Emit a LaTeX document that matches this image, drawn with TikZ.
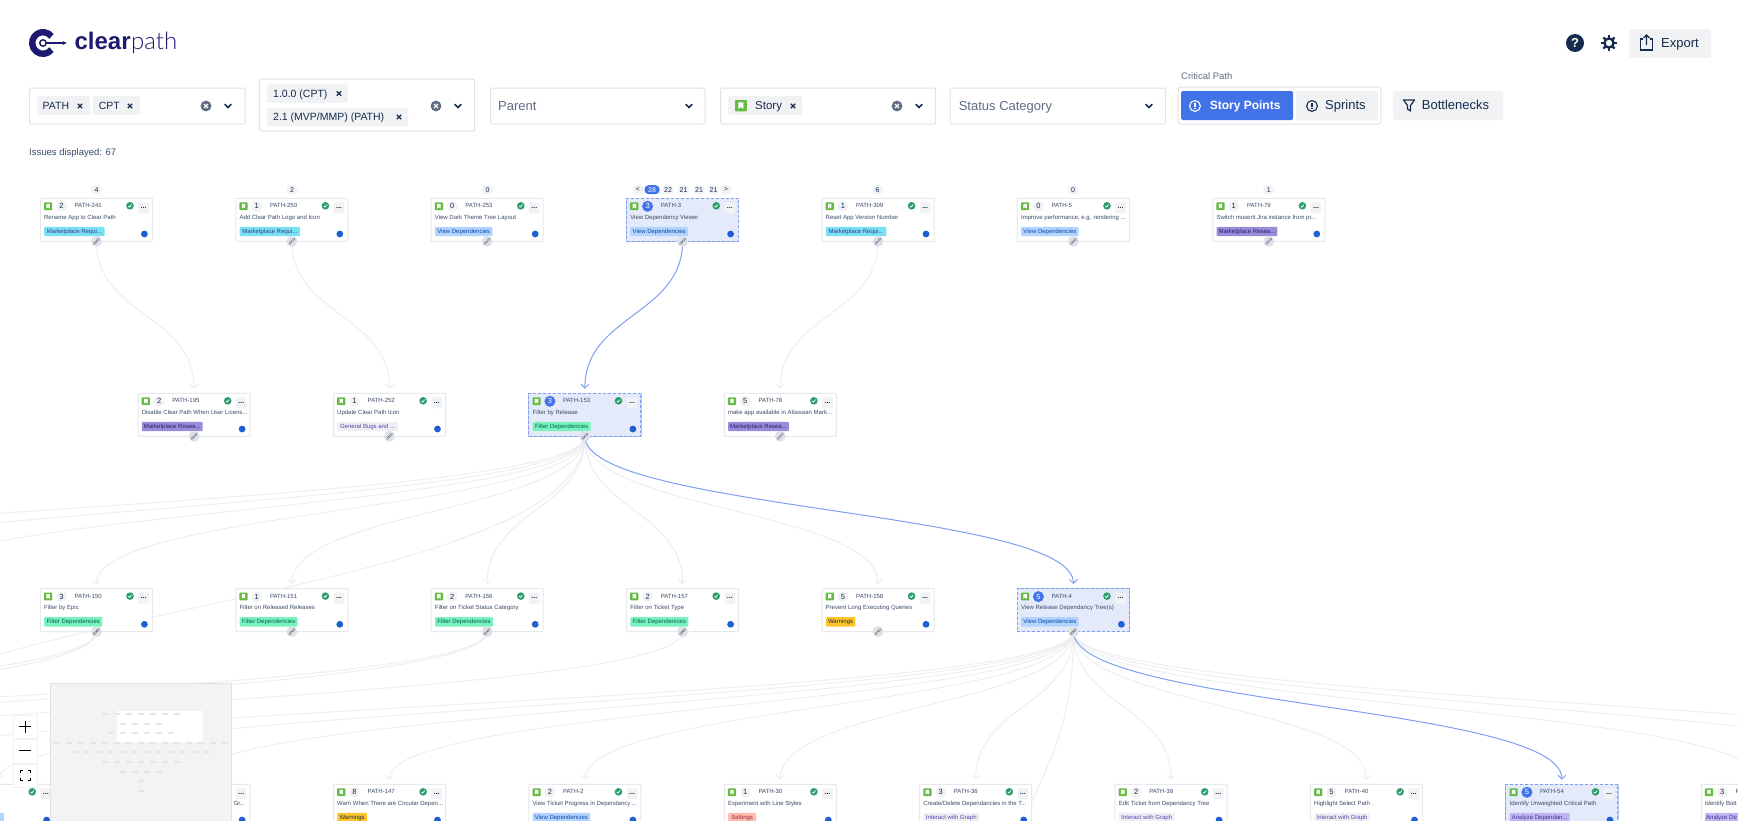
\documentclass[tikz,border=0pt]{standalone}
\usepackage{fontspec}
\setmainfont{Liberation Sans}
\newfontfamily\logothin{Lato Light}
\usetikzlibrary{calc,backgrounds,arrows.meta}
\definecolor{navy}{HTML}{172B4D}
\definecolor{slate}{HTML}{5E6C84}
\definecolor{chipgrey}{HTML}{F1F2F4}
\definecolor{rulegrey}{HTML}{DFE1E6}
\definecolor{cardline}{HTML}{E7E8EC}
\definecolor{edgegrey}{HTML}{ECEDEF}
\definecolor{edgeblue}{HTML}{7F9FF2}
\definecolor{activeblue}{HTML}{4272E8}
\definecolor{selfill}{HTML}{E4EAFA}
\definecolor{storygreen}{HTML}{65BA43}
\definecolor{okgreen}{HTML}{2B9E6B}
\definecolor{dotblue}{HTML}{1F5FD1}
\definecolor{logoink}{HTML}{1E1A70}
\definecolor{mapgrey}{HTML}{F3F3F3}
\definecolor{mapdash}{HTML}{E6E6E6}
\tikzset{
  boxfield/.style={draw=rulegrey,line width=1,rounded corners=1.5,fill=white},
  chip/.style={fill=chipgrey,rounded corners=1.5,inner sep=0,anchor=west},
  chiptext/.style={inner sep=0,anchor=west,text=navy,font=\fontsize{10.5}{12}\selectfont},
  fieldtext/.style={inner sep=0,anchor=west,text=slate,font=\fontsize{13}{15}\selectfont,text height=11,text depth=2.2},
  btntext/.style={inner sep=0,anchor=west,text=navy,font=\fontsize{13}{15}\selectfont,text height=11,text depth=2.2},
  greybtn/.style={fill=chipgrey,rounded corners=1.5},
  cardbox/.style={draw=cardline,line width=1,fill=white,rounded corners=.8,anchor=north west,minimum width=112,minimum height=43,inner sep=0,outer sep=0},
  ptspill/.style={circle,fill=chipgrey,minimum size=11,inner sep=0,text=navy,font=\fontsize{7.5}{8}\selectfont},
  selected/.style={
    cardbox/.style={draw=edgeblue,line width=1.1,densely dashed,fill=selfill,anchor=north west,minimum width=112,minimum height=43,inner sep=0,outer sep=0,
      preaction={draw=edgeblue!60,line width=1.6,solid}},
    ptspill/.style={circle,fill=activeblue,minimum size=11,inner sep=0,text=white,font=\fontsize{7.5}{8}\selectfont}},
  keytext/.style={inner sep=0,anchor=west,text=navy!85,font=\fontsize{6}{7}\selectfont,text height=4.5,text depth=1.3},
  sumtext/.style={inner sep=0,anchor=west,text=navy!85,font=\fontsize{6}{7}\selectfont,text height=4.5,text depth=1.3},
  okdot/.style={circle,fill=okgreen,minimum size=7.6,inner sep=0},
  morebtn/.style={fill=chipgrey,rounded corners=.8,minimum width=10.6,minimum height=11,inner sep=0,text=navy,font=\fontsize{7}{8}\selectfont},
  tagbox/.style={rounded corners=1,minimum height=9.4,inner sep=0,anchor=west,font=\fontsize{6}{7}\selectfont,text height=4.5,text depth=1.3},
  linkdot/.style={circle,fill=rulegrey,minimum size=11,inner sep=0},
  countpill/.style={fill=chipgrey,rounded corners=4,minimum height=9,minimum width=11,inner sep=0,text=navy,font=\fontsize{7}{8}\selectfont},
  tagcyan/.style={fill={rgb,255:red,121;green,226;blue,242},text={rgb,255:red,64;green,50;blue,148}},
  tagblue/.style={fill={rgb,255:red,179;green,212;blue,255},text={rgb,255:red,7;green,71;blue,166}},
  tagviolet/.style={fill={rgb,255:red,153;green,141;blue,217},text={rgb,255:red,40;green,30;blue,110}},
  tagplain/.style={fill={rgb,255:red,238;green,239;blue,243},text={rgb,255:red,82;green,67;blue,170}},
  taggreen/.style={fill={rgb,255:red,121;green,242;blue,192},text={rgb,255:red,0;green,102;blue,68}},
  tagamber/.style={fill={rgb,255:red,255;green,196;blue,41},text=navy},
  tagrose/.style={fill={rgb,255:red,255;green,189;blue,173},text={rgb,255:red,150;green,40;blue,60}},
  taglilac/.style={fill={rgb,255:red,192;green,182;blue,242},text={rgb,255:red,64;green,50;blue,148}},
  greyedge/.style={draw=edgegrey,line width=.9,-{Straight Barb[length=4pt,width=8pt]}},
  blueedge/.style={draw=edgeblue,line width=1,-{Straight Barb[length=4pt,width=8pt]}},
  storyicon/.pic={
    \fill[storygreen,rounded corners=.8] (0,0) rectangle (8.2,7.8);
    \fill[white] (2.4,1.6) -- (5.8,1.6) -- (5.8,6.2) -- (4.1,4.9) -- (2.4,6.2) -- cycle;},
  chevronmark/.pic={\draw[navy,line width=1.5,line cap=round] (-3,-1.5) -- (0,1.5) -- (3,-1.5);},
  clearmark/.pic={\fill[slate] (0,0) circle (5.4);
    \draw[white,line width=1.2] (-2,-2) -- (2,2) (-2,2) -- (2,-2);},
  crossmark/.pic={\draw[navy,line width=1.3] (-2.2,-2.2) -- (2.2,2.2) (-2.2,2.2) -- (2.2,-2.2);},
  alertmark/.pic={\draw[line width=1.1] (0,0) circle (5.4);
    \draw[line width=1.3] (0,-3) -- (0,.8) (0,2) -- (0,3.1);},
}
% one issue card
\newcommand{\card}[9]{%
  \begin{scope}[shift={(#2,#3)}]
    \node[cardbox] (#1) at (0,0) {};
    \pic at (3.6,4) {storyicon};
    \node[ptspill] (#1pts) at (21,8) {#4};
    \node[keytext] (#1key) at (34,8) {#5};
    \node[okdot] (#1ok) at (89.6,7.5) {};
    \draw[white,line width=.7] (87.9,7.6) -- (89.2,8.8) -- (91.2,6.3);
    \node[morebtn] (#1more) at (103.2,9.5) {\textbf{...}};
    \node[sumtext] (#1sum) at (3.5,19.4) {#6};
    \node[tagbox,#7,minimum width=#9] (#1tag) at (3.6,33.2) {#8};
    \node[linkdot] (#1link) at (56,43) {};
    \draw[draw=slate,double=rulegrey,line width=.6,double distance=.7,line cap=round]
      (53.7,45.3) -- (55.5,43.5) (56.5,42.5) -- (58.3,40.7);
    \coordinate (#1in) at (56,-4.5);
  \end{scope}}
\newcommand{\edgeto}[3][greyedge]{%
  \coordinate (edgemid) at ($(#2.south)!0.5!(#3in)$);
  \draw[#1] (#2.south) .. controls (#2.south |- edgemid) and (#3in |- edgemid) .. (#3in);}
\begin{document}
\begin{tikzpicture}[x=1pt,y=-1pt]
\useasboundingbox (0,0) rectangle (1738,820);
\begin{scope}[on background layer]
  \fill[white] (0,0) rectangle (1738,820);
\end{scope}

% header
\draw[logoink,line width=6.4] (43,43) ++(38:10.8) arc[start angle=38,end angle=322,radius=10.8];
\draw[logoink,line width=1.5] (43,43) circle (3.2);
\draw[logoink,line width=1.1,-{Stealth[length=4pt,width=4pt]}] (46,43) -- (66.6,43);
\node[inner sep=0,anchor=base west,text=logoink,font=\fontsize{24}{26}\selectfont] (logoname) at (74.4,49.6) {\textbf{clear}\hspace{.5pt}{\logothin path}};
\fill[navy] (1575,43) circle (9);
\node[inner sep=0,text=white,font=\fontsize{13}{14}\selectfont] (helpmark) at (1575,43) {\textbf{?}};
\draw[navy,line width=2.4] (1609,43) circle (4.6);
\foreach \a in {0,45,...,315}
  \draw[navy,line width=2.2] (1609,43) ++(\a:5.4) -- ++(\a:2.4);
\fill[greybtn] (1629,29) rectangle (1711,58);
\draw[navy,line width=1.2] (1643,39) -- (1640.5,39) -- (1640.5,50) -- (1652.5,50) -- (1652.5,39) -- (1650,39);
\draw[navy,line width=1.2] (1646.5,45) -- (1646.5,35) (1643.5,38) -- (1646.5,35) -- (1649.5,38);
\node[btntext] (exporttext) at (1661,43) {Export};

% filter row
\draw[boxfield] (29.5,88) rectangle (245,124);
\node[chip,minimum width=53,minimum height=19] (chippath) at (37,105.5) {};
\node[chiptext] (chippathtext) at (42.5,105.5) {PATH};
\pic at (80,106) {crossmark};
\node[chip,minimum width=47,minimum height=19] (chipcpt) at (93,105.5) {};
\node[chiptext] (chipcpttext) at (98.7,105.5) {CPT};
\pic at (130,106) {crossmark};
\pic at (206,106) {clearmark};
\pic at (228,106) {chevronmark};

\draw[boxfield] (259.5,79) rectangle (474.6,131);
\node[chip,minimum width=80.5,minimum height=18.5] (chipcpta) at (267,93.5) {};
\node[chiptext] (chipcptatext) at (273,94.3) {1.0.0 (CPT)};
\pic at (339,93.5) {crossmark};
\node[chip,minimum width=141,minimum height=18.5] (chipmvp) at (267,117) {};
\node[chiptext] (chipmvptext) at (273,117.8) {2.1 (MVP/MMP) (PATH)};
\pic at (399,117) {crossmark};
\pic at (436,106) {clearmark};
\pic at (458,106) {chevronmark};

\draw[boxfield] (490.6,88) rectangle (705,124);
\node[fieldtext] (parenttext) at (498,106) {Parent};
\pic at (689,106) {chevronmark};

\draw[boxfield] (720.5,88) rectangle (935.6,124);
\node[chip,minimum width=74,minimum height=19] (chipstory) at (728,105.5) {};
\pic[scale=1.45] at (735,100) {storyicon};
\node[chiptext,font=\fontsize{11.5}{13}\selectfont] (chipstorytext) at (755,106.3) {Story};
\pic at (793,106) {crossmark};
\pic at (897,106) {clearmark};
\pic at (919,106) {chevronmark};

\draw[boxfield] (950,88) rectangle (1165.6,124);
\node[fieldtext] (statustext) at (958.6,106) {Status Category};
\pic at (1149,106) {chevronmark};

\node[inner sep=0,anchor=west,text=slate,font=\fontsize{9.5}{11}\selectfont] (crittitle) at (1181,76) {Critical Path};
\draw[boxfield,rounded corners=3] (1178,87) rectangle (1381,124);
\fill[activeblue,rounded corners=1.5] (1181,91) rectangle (1293,120);
\pic[white] at (1195,106) {alertmark};
\node[inner sep=0,anchor=west,text=white,font=\fontsize{12}{14}\bfseries\selectfont] (spointstext) at (1209.6,106) {Story Points};
\fill[greybtn] (1296,91) rectangle (1378,120);
\pic[navy] at (1312,106) {alertmark};
\node[btntext] (sprintstext) at (1325,105) {Sprints};
\fill[greybtn] (1393,91) rectangle (1503,120);
\draw[navy,line width=1.2,line join=round] (1403.5,100) -- (1414.5,100) -- (1410.5,105.5) -- (1410.5,111) -- (1407.5,109) -- (1407.5,105.5) -- cycle;
\node[btntext] (bottlenecktext) at (1421.7,105) {Bottlenecks};

\node[inner sep=0,anchor=west,text=navy!85,font=\fontsize{9.5}{11}\selectfont] (issuecount) at (29,153) {Issues displayed: 67};

% first row
\foreach \n/\x/\t in {cnta/96.6/4,cntb/292/2,cntc/487.5/0,cntd/877.6/6,cnte/1073/0,cntf/1268.7/1}
  \node[countpill] (\n) at (\x,189.7) {\t};
\foreach \n/\x/\t in {pgprev/638/<,pgb/668/22,pgc/683.6/21,pgd/699/21,pge/713.6/21,pgnext/726/>}
  \node[countpill] (\n) at (\x,189.7) {\t};
\node[countpill,fill=activeblue,text=white,minimum width=15] (pga) at (652,189.7) {28};

\card{ca}{40.4}{198.3}{2}{PATH-241}{Rename App to Clear Path}{tagcyan}{Marketplace Requi...}{60.5}
\card{cb}{235.8}{198.3}{1}{PATH-250}{Add Clear Path Logo and Icon}{tagcyan}{Marketplace Requi...}{60.5}
\card{cc}{431.2}{198.3}{0}{PATH-253}{View Dark Theme Tree Layout}{tagblue}{View Dependencies}{57.5}
\begin{scope}[selected]
\card{cd}{626.6}{198.3}{3}{PATH-3}{View Dependency Viewer}{tagblue}{View Dependencies}{57.5}
\end{scope}
\card{ce}{822}{198.3}{1}{PATH-309}{Reset App Version Number}{tagcyan}{Marketplace Requi...}{60.5}
\card{cf}{1017.4}{198.3}{0}{PATH-5}{Improve performance, e.g. rendering ...}{tagblue}{View Dependencies}{57.5}
\card{cg}{1212.8}{198.3}{1}{PATH-79}{Switch moserit Jira instance from pr...}{tagviolet}{Marketplace Resea...}{60.7}

% second row
\card{da}{138.1}{393.3}{2}{PATH-195}{Disable Clear Path When User Licens...}{tagviolet}{Marketplace Resea...}{60.7}
\card{db}{333.5}{393.3}{1}{PATH-252}{Update Clear Path Icon}{tagplain}{General Bugs and ...}{60.5}
\begin{scope}[selected]
\card{dc}{528.9}{393.3}{3}{PATH-153}{Filter by Release}{taggreen}{Filter Dependencies}{58}
\end{scope}
\card{dd}{724.3}{393.3}{5}{PATH-78}{make app available in Atlassian Mark...}{tagviolet}{Marketplace Resea...}{60.7}

% third row
\card{ea}{40.4}{588.6}{3}{PATH-150}{Filter by Epic}{taggreen}{Filter Dependencies}{58}
\card{eb}{235.8}{588.6}{1}{PATH-151}{Filter on Released Releases}{taggreen}{Filter Dependencies}{58}
\card{ec}{431.2}{588.6}{2}{PATH-156}{Filter on Ticket Status Category}{taggreen}{Filter Dependencies}{58}
\card{ed}{626.6}{588.6}{2}{PATH-157}{Filter on Ticket Type}{taggreen}{Filter Dependencies}{58}
\card{ee}{822}{588.6}{5}{PATH-158}{Prevent Long Executing Queries}{tagamber}{Warnings}{29.6}
\begin{scope}[selected]
\card{ef}{1017.4}{588.6}{5}{PATH-4}{View Release Dependancy Tree(s)}{tagblue}{View Dependencies}{57.5}
\end{scope}

% fourth row
\card{fa}{-57.4}{784.3}{}{}{}{tagblue}{}{57.5}
\card{fb}{138.1}{784.3}{}{}{\hspace{87pt}n Gr...}{tagblue}{}{57.5}
\card{fc}{333.5}{784.3}{8}{PATH-147}{Warn When There are Circular Depen...}{tagamber}{Warnings}{29.6}
\card{fd}{528.9}{784.3}{2}{PATH-2}{View Ticket Progress in Dependancy ...}{tagblue}{View Dependencies}{57.5}
\card{fe}{724.3}{784.3}{1}{PATH-30}{Experiment with Line Styles}{tagrose}{Settings}{28}
\card{ff}{919.7}{784.3}{3}{PATH-36}{Create/Delete Dependancies in the T...}{tagplain}{Interact with Graph}{55.6}
\card{fg}{1115.1}{784.3}{2}{PATH-38}{Edit Ticket from Dependancy Tree}{tagplain}{Interact with Graph}{55.6}
\card{fh}{1310.5}{784.3}{5}{PATH-40}{Highlight Select Path}{tagplain}{Interact with Graph}{55.6}
\begin{scope}[selected]
\card{fi}{1505.9}{784.3}{5}{PATH-54}{Identify Unweighted Critical Path}{taglilac}{Analyze Dependan...}{60}
\end{scope}
\card{fj}{1701.3}{784.3}{3}{P}{Identify Bott}{taglilac}{}{60}
\node[inner sep=0,anchor=west,text={rgb,255:red,64;green,50;blue,148},font=\fontsize{6}{7}\selectfont] (fjtagtext) at (1706,817.5) {Analyze De};

% blue dots
\foreach \n/\x/\y in {ca/144.4/234,cb/339.8/234,cc/535.2/234,cd/730.6/234,ce/926/234,cg/1316.8/234,
  da/242.1/429,db/437.5/429,dc/632.9/429,
  ea/144.4/624.3,eb/339.8/624.3,ec/535.2/624.3,ed/730.6/624.3,ee/926/624.3,ef/1121.4/624.3,
  fa/46.6/820,fb/242.1/820,fc/437.5/820,fd/632.9/820,fe/828.3/820,ff/1023.7/820,fg/1219.1/820,fh/1414.5/820,fi/1609.9/820}
  \fill[dotblue] (\x,\y) circle (3.4);

% edges that leave the picture
\foreach \n/\x/\y in {ua/-99/584,ub/-295/584,uc/-490/584,
  va/-197/780,vb/-392/780,vc/-587/780,vd/-782/780,ve/-978/780,
  vf/1952/780,vg/2148/780,wa/1000/950}
  \coordinate (\n in) at (\x,\y);

\begin{scope}[on background layer]
\edgeto{ca}{da}
\edgeto{cb}{db}
\edgeto{ce}{dd}
\foreach \t in {ea,eb,ec,ed,ee,ua,ub,uc,va} {\edgeto{dc}{\t}}
\edgeto{ea}{vd}
\edgeto{ea}{ve}
\edgeto{ec}{vc}
\edgeto{ec}{vd}
\edgeto{ed}{vb}
\foreach \t in {va,fa,fb,fc,fd,fe,ff,fg,fh,fj,vf,vg,wa} {\edgeto{ef}{\t}}
\edgeto[blueedge]{cd}{dc}
\edgeto[blueedge]{dc}{ef}
\edgeto[blueedge]{ef}{fi}
\end{scope}

% minimap
\draw[draw=rulegrey,fill=mapgrey,line width=.8] (50.5,683.3) rectangle (231.6,823);
\fill[white] (117,711) rectangle (203,741.7);
\foreach \y/\n in {713.7/7,723.7/4,733/6,742.7/15,752.3/12,762/7,771.7/4,781/1,790.7/1}
  \foreach \k in {1,...,\n}
    \fill[mapdash] ({141+12*(\k-(\n+1)/2)-3},\y-1) rectangle ++(6,2);

% zoom controls
\foreach \n/\a/\b in {zoomin/715/738,zoomout/739/763,zoomfit/764/787}
  \fill[white,draw=chipgrey,line width=.6] (13,\a) rectangle (37,\b);
\draw[black,line width=.8] (25,720.5) -- (25,733) (19,726.7) -- (31,726.7);
\draw[black,line width=1] (19,750.7) -- (31,750.7);
\draw[black,line width=1] (20,773) -- (20,770.5) -- (22.5,770.5) (27.5,770.5) -- (30,770.5) -- (30,773)
  (30,778) -- (30,780.5) -- (27.5,780.5) (22.5,780.5) -- (20,780.5) -- (20,778);
\end{tikzpicture}
\end{document}
